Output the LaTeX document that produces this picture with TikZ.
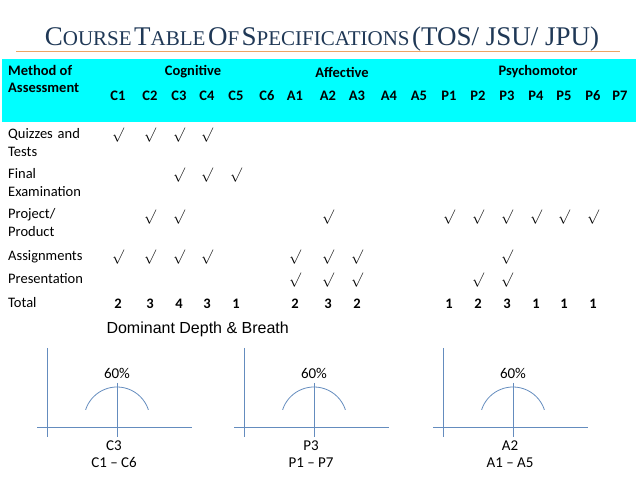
\documentclass[tikz,border=0pt]{standalone}
\usepackage{fontspec}
\setmainfont{Carlito}
\newfontfamily\arialfont{Liberation Sans}
\newfontfamily\titlefont{Liberation Serif}
\definecolor{headcyan}{RGB}{0,255,255}
\definecolor{titleblue}{RGB}{31,56,86}
\definecolor{lineorange}{RGB}{240,165,100}
\definecolor{plotblue}{RGB}{100,140,190}
\tikzset{
  cell/.style={font=\fontsize{14.5}{18}\selectfont, inner sep=0pt},
  head/.style={cell, font=\fontsize{14.5}{18}\selectfont\bfseries},
  rowlbl/.style={cell, anchor=north west, align=left, text width=90pt, font=\fontsize{14.5}{18}\selectfont},
  tick/.style={cell, font=\fontsize{15}{15}\selectfont},
  axis/.style={plotblue, line width=0.8pt},
  plotlbl/.style={font=\fontsize{15}{17}\selectfont, align=center, inner sep=0pt}
}
\newcommand{\tk}{$\surd$}
\newcommand{\bigc}[2]{{\fontsize{27}{27}\selectfont #1}{\fontsize{21}{21}\selectfont #2}}
\begin{document}
\begin{tikzpicture}[x=1pt, y=-1pt]
\useasboundingbox (0,0) rectangle (638,478);

% Titel
\node[font=\titlefont, text=titleblue, anchor=base] (title) at (322,46) {\bigc{C}{OURSE} \bigc{T}{ABLE} \bigc{O}{F} \bigc{S}{PECIFICATIONS} \bigc{(TOS/ JSU/ JPU)}{}};
\draw[lineorange, line width=1pt] (16,52) -- (620,52);

% Kopfzeile
\fill[headcyan] (2,59) rectangle (636,122);
\node[head, anchor=north west, align=left, font=\fontsize{14.5}{17}\selectfont\bfseries] (method) at (8,65) {Method of\\Assessment};
\node[head] (cog) at (193,72) {Cognitive};
\node[head] (aff) at (342,72) {Affective};
\node[head] (psy) at (538,72) {Psychomotor};

% Spalten
\foreach \c/\x in {C1/118,C2/150,C3/179,C4/207,C5/236,C6/267,A1/295,A2/328,A3/357,A4/389,A5/419,P1/449,P2/478,P3/507,P4/536,P5/564,P6/593,P7/620}
  \node[head] (h\c) at (\x,96) {\c};

% Zeilen
\node[rowlbl] (quiz) at (8,128) {Quizzes and\\Tests};
\node[rowlbl] (final) at (8,168) {Final\\Examination};
\node[rowlbl] (proj) at (8,208) {Project/\\Product};
\node[rowlbl] (assign) at (8,250) {Assignments};
\node[rowlbl] (pres) at (8,273) {Presentation};
\node[rowlbl] (total) at (8,297) {Total};

% Haken
\foreach \x in {118,150,179,207} \node[tick] at (\x,135) {\tk};
\foreach \x in {179,207,236} \node[tick] at (\x,175) {\tk};
\foreach \x in {150,179,328,449,478,507,536,564,593} \node[tick] at (\x,217) {\tk};
\foreach \x in {118,150,179,207,295,328,357,507} \node[tick] at (\x,257) {\tk};
\foreach \x in {295,328,357,478,507} \node[tick] at (\x,280) {\tk};
\foreach \x/\v in {118/2,150/3,179/4,207/3,236/1,295/2,328/3,357/2,449/1,478/2,507/3,536/1,564/1,593/1}
  \node[head] at (\x,304) {\v};

% Diagramme
\node[font=\fontsize{16}{16}\selectfont\arialfont, anchor=west] (dom) at (103,329) {Dominant Depth \& Breath};
\foreach \ox/\pk/\rg [count=\i] in {0/C3/C1 -- C6,197/P3/P1 -- P7,396/A2/A1 -- A5}{
  \begin{scope}[xshift=\ox]
    \draw[axis] (47,348) -- (47,437);
    \draw[axis] (37,427) -- (192,427);
    \draw[axis] (117,383) -- (117,437);
    \draw[axis] (117,420) ++(-162:33) arc[start angle=-162, end angle=-18, radius=33];
    \node[plotlbl] (pct\i) at (117,373) {60\%};
    \node[plotlbl] (lbl\i) at (114,454) {\pk\\\rg};
  \end{scope}
}
\end{tikzpicture}
\end{document}
